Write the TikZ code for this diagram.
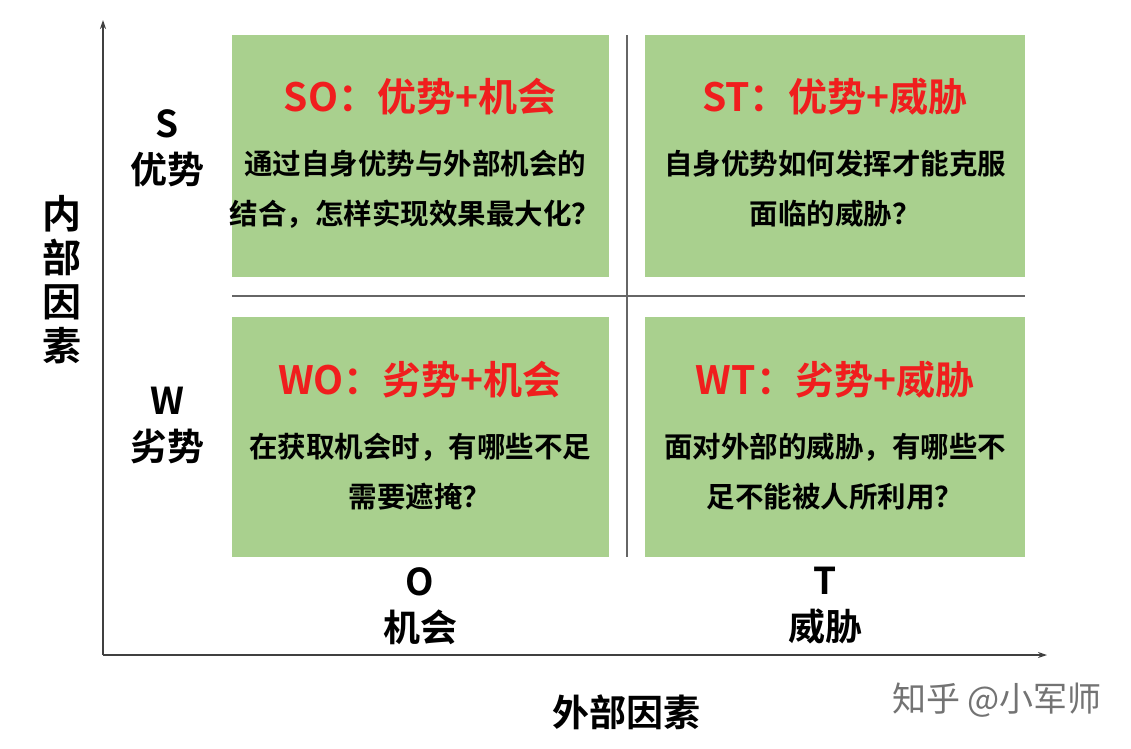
\documentclass[tikz,border=0pt]{standalone}
\usepackage{fontspec}
\setmainfont{Noto Sans CJK SC}[BoldFont={* Bold}]
\usetikzlibrary{arrows.meta}
\definecolor{boxg}{RGB}{169,208,142}
\definecolor{tred}{RGB}{240,30,30}
\tikzset{x=1pt,y=-1pt,
 quad/.style={fill=boxg,draw=none},
 ttl/.style={text=tred,font=\fontsize{39}{44}\selectfont\bfseries},
 bdy/.style={font=\fontsize{28.5}{50}\selectfont\bfseries,align=center},
 lab/.style={font=\fontsize{37}{46}\selectfont\bfseries,align=center},
 axis/.style={draw=black!75,line width=1.2pt,-{Stealth[length=9pt,width=6pt]}},
 divl/.style={draw=black!60,line width=1.2pt}}
\begin{document}
\begin{tikzpicture}
\useasboundingbox (0,0) rectangle (1131,748);
\fill[quad] (232,35) rectangle (609,277);
\fill[quad] (645,35) rectangle (1025,277);
\fill[quad] (232,317) rectangle (609,557);
\fill[quad] (645,317) rectangle (1025,557);
\coordinate (vt) at (627,35); \coordinate (vb) at (627,557);
\coordinate (hl) at (232,296); \coordinate (hr) at (1025,296);
\draw[divl] (vt) -- (vb); \draw[divl] (hl) -- (hr);
\coordinate (o) at (103,655); \coordinate (ya) at (103,20); \coordinate (xa) at (1047,655);
\draw[axis] (o) -- (ya); \draw[axis] (o) -- (xa);
\node[ttl] (t1) at (420,97) {SO：优势+机会};
\node[ttl] (t2) at (835,97) {ST：优势+威胁};
\node[ttl] (t3) at (420,380) {WO：劣势+机会};
\node[ttl] (t4) at (835,380) {WT：劣势+威胁};
\node[bdy] (b1) at (415,189) {通过自身优势与外部机会的\\结合，怎样实现效果最大化？};
\node[bdy] (b2) at (835,189) {自身优势如何发挥才能克服\\面临的威胁？};
\node[bdy] (b3) at (420,472) {在获取机会时，有哪些不足\\需要遮掩？};
\node[bdy] (b4) at (835,472) {面对外部的威胁，有哪些不\\足不能被人所利用？};
\node[lab] (s) at (167,148) {S\\优势};
\node[lab] (w) at (167,425) {W\\劣势};
\node[lab] (oo) at (420,606) {O\\机会};
\node[lab] (tt) at (825,606) {T\\威胁};
\node[font=\fontsize{39}{44}\selectfont\bfseries,align=center] (in) at (62,280) {内\\部\\因\\素};
\node[font=\fontsize{37}{44}\selectfont\bfseries] (ex) at (626,712) {外部因素};
\node[font=\fontsize{34}{40}\selectfont,text=black!55] (zh) at (997,700) {知乎 @小军师};
\end{tikzpicture}
\end{document}
